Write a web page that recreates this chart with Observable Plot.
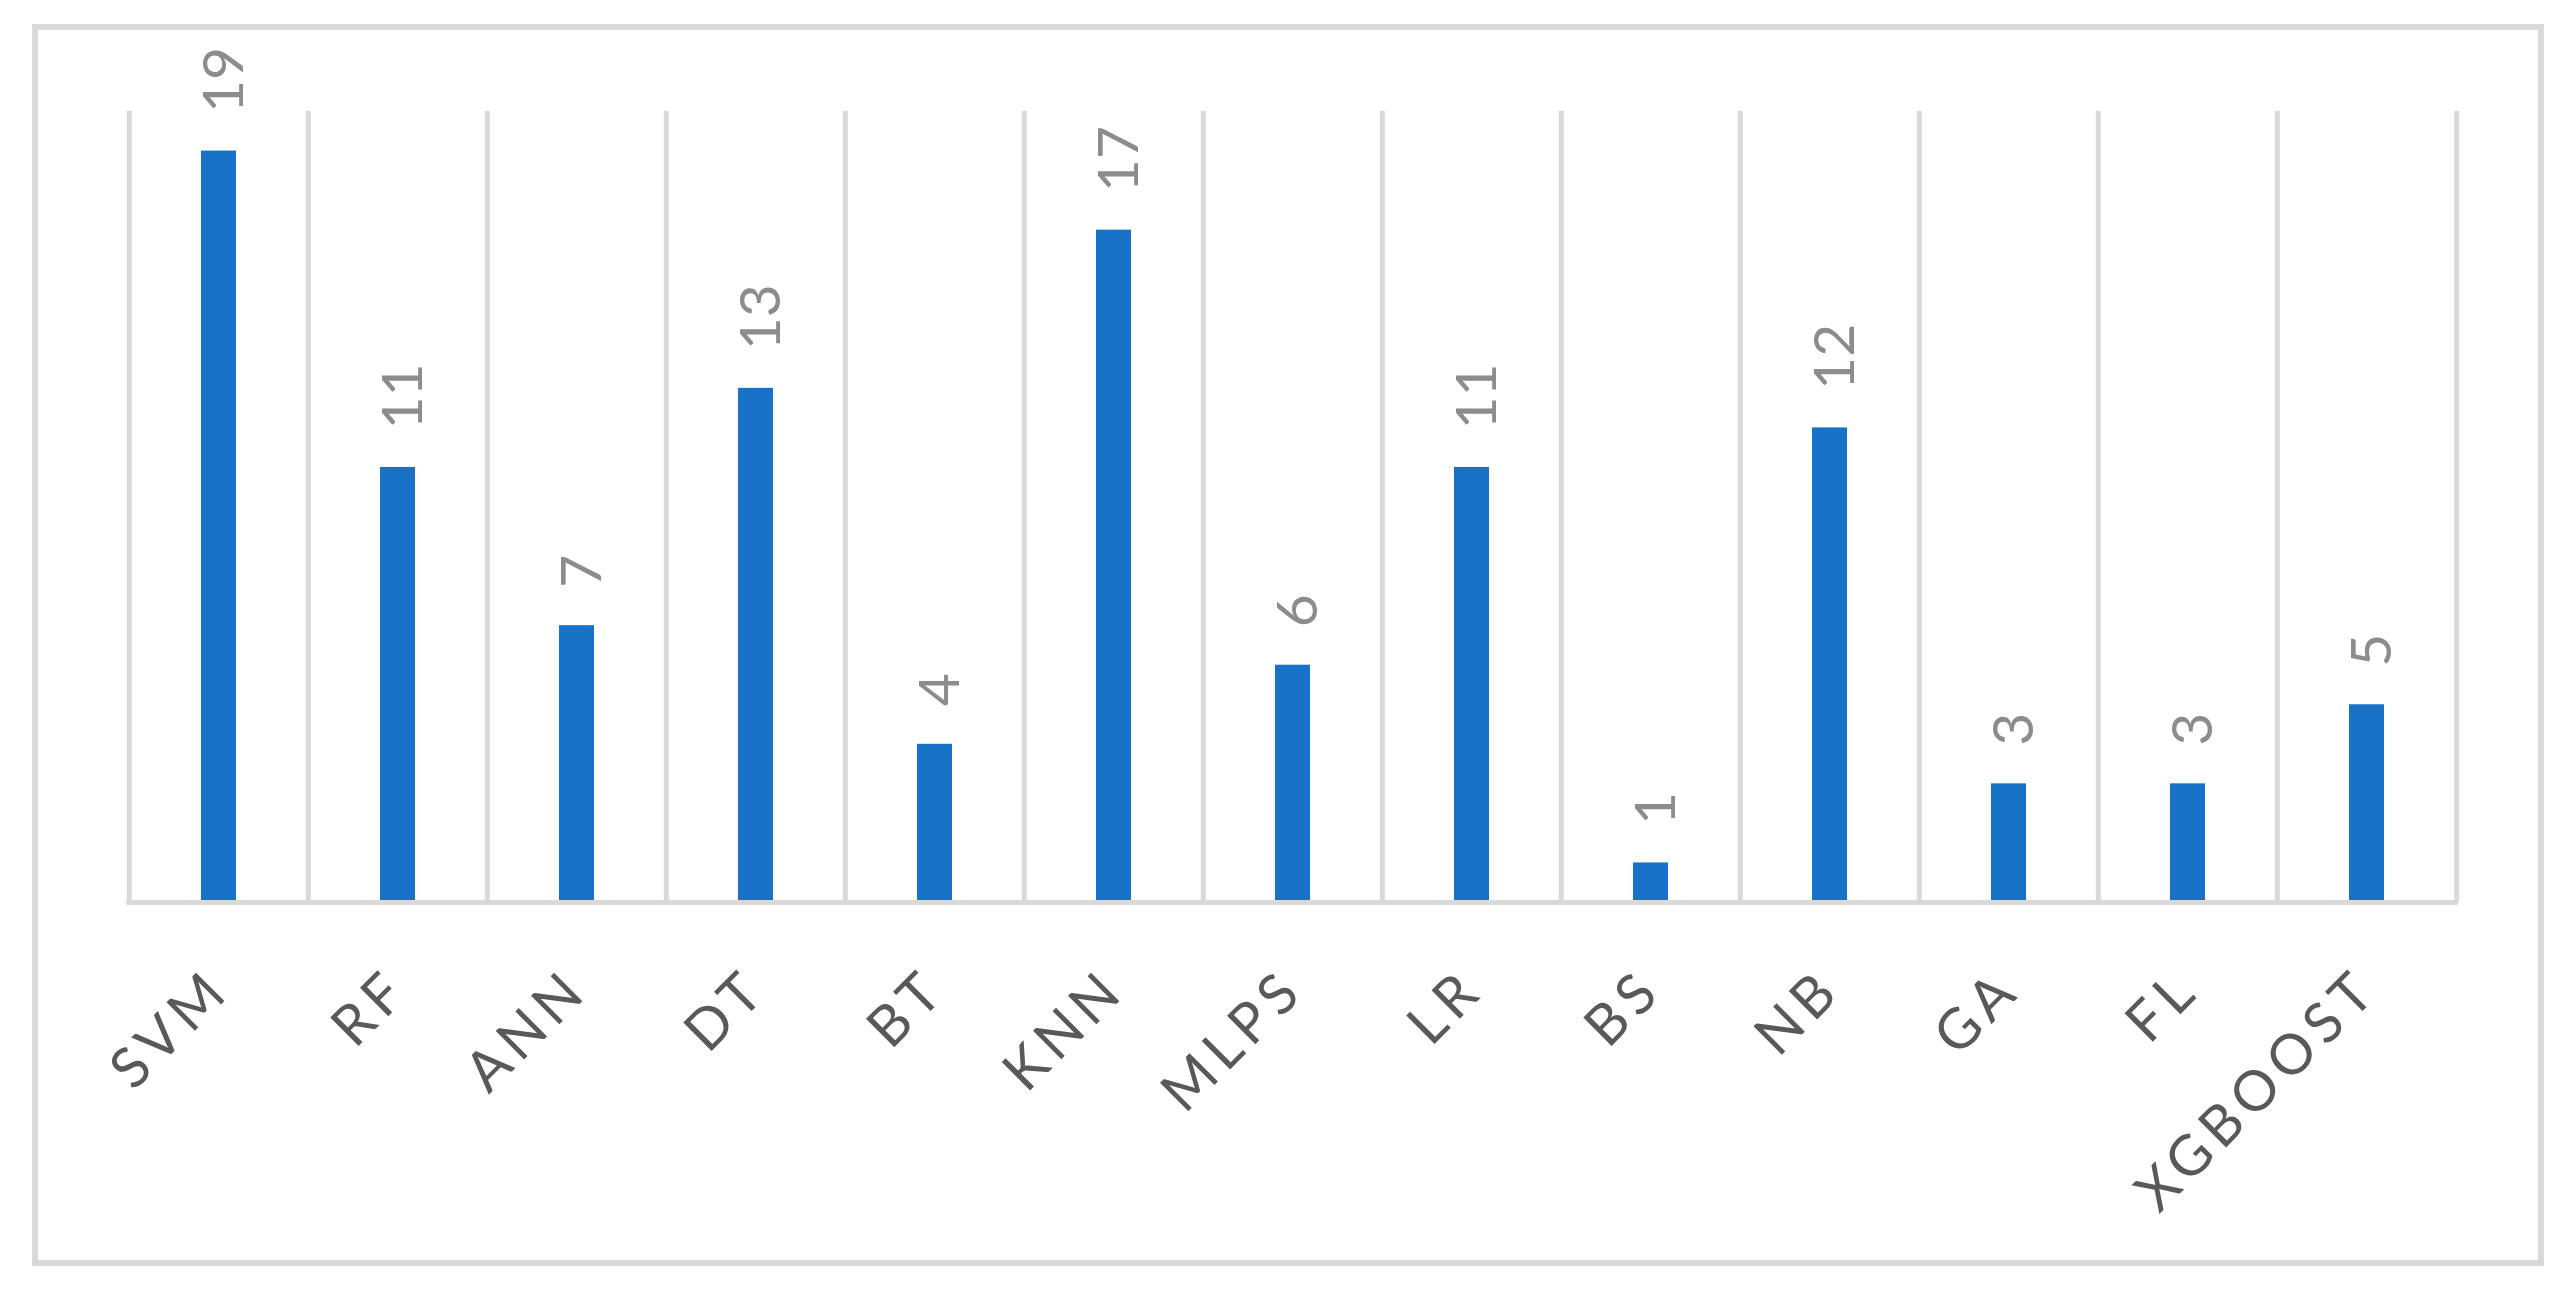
<!DOCTYPE html>
<html>
<head>
<meta charset="utf-8">
<script src="https://cdn.jsdelivr.net/npm/d3@7"></script>
<script src="https://cdn.jsdelivr.net/npm/@observablehq/plot@0.6"></script>
<style>
  html, body { margin: 0; padding: 0; background: #fff; }
  #wrap { position: relative; width: 2572px; height: 1299px; }
  #frame { position: absolute; left: 32px; top: 24px; width: 2512px; height: 1242px;
           box-sizing: border-box; border: 6px solid #d9d9d9; pointer-events: none; }
  svg { font-family: Lato, "Open Sans", sans-serif; }
</style>
</head>
<body>
<div id="wrap"><div id="frame"></div></div>
<script>
const categories = ["SVM", "RF", "ANN", "DT", "BT", "KNN", "MLPS", "LR", "BS", "NB", "GA", "FL", "XGBOOST"];
const counts = [19, 11, 7, 13, 4, 17, 6, 11, 1, 12, 3, 3, 5];
const yDomain = [0, 20];

const data = categories.map((c, i) => ({category: c, count: counts[i]}));

const W = 2572, H = 1299;
const mL = 126, mR = 114, mT = 111, mB = 397;
const step = (W - mL - mR) / categories.length;
const grid = "#d9d9d9";

const chart = Plot.plot({
  width: W,
  height: H,
  marginLeft: mL,
  marginRight: mR,
  marginTop: mT,
  marginBottom: mB,
  x: {domain: categories, paddingInner: 0.805, paddingOuter: 0.4025, axis: null},
  y: {domain: yDomain, axis: null},
  marks: [
    Plot.ruleX(categories, {x: d => d, y1: yDomain[0], y2: yDomain[1], dx: -step / 2, stroke: grid, strokeWidth: 5}),
    Plot.ruleX(categories.slice(-1), {x: d => d, y1: yDomain[0], y2: yDomain[1], dx: step / 2, stroke: grid, strokeWidth: 5}),
    Plot.barY(data, {x: "category", y: "count", fill: "#1873c8"}),
    Plot.ruleY([0], {stroke: grid, strokeWidth: 5}),
    Plot.text(data, {x: "category", y: "count", text: d => String(d.count), rotate: -90, textAnchor: "start",
      dx: 6, dy: -38, fill: "#8c8c8c", fontSize: 57}),
    Plot.text(categories, {x: d => d, y: 0, text: d => d, rotate: -45, textAnchor: "end", lineAnchor: "bottom",
      dx: 14, dy: 90, fill: "#595959", fontSize: 56})
  ]
});

chart.querySelectorAll("text").forEach(t => {
  if ((t.getAttribute("transform") || "").includes("rotate(-45)")) {
    t.setAttribute("letter-spacing", "7px");
    t.style.letterSpacing = "7px";
  }
});
document.getElementById("wrap").prepend(chart);
</script>
</body>
</html>
